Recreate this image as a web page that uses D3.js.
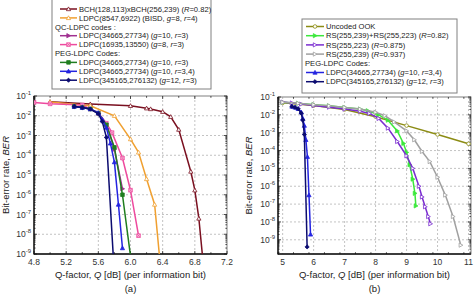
<!DOCTYPE html>
<html><head><meta charset="utf-8">
<script src="https://cdn.jsdelivr.net/npm/d3@7"></script>
<style>body{margin:0;background:#fff}svg{display:block;font-family:"Liberation Sans",Arial,sans-serif}</style>
</head><body><svg id="chart" width="474" height="294"></svg>
<script>
// ---- panel (a) data: Q [dB] and BER
const qBch   = [5.0, 5.5, 6.0, 6.2, 6.25, 6.4, 6.5, 6.6, 6.75, 6.8, 6.85, 6.9];
const berBch = [5.1e-2, 3.9e-2, 3.2e-2, 2.4e-2, 2.2e-2, 1.6e-2, 8.9e-3, 2.0e-3, 1.5e-5, 1.7e-6, 6.3e-8, 5e-10];
const qBisd   = [5.0, 5.5, 5.8, 6.0, 6.1, 6.2, 6.3, 6.36];
const berBisd = [5.0e-2, 3.2e-2, 1.0e-2, 6.6e-4, 1.4e-4, 6.3e-6, 3.2e-7, 8e-10];
const qQc1   = [5.3, 5.5, 5.6, 5.7, 5.8, 5.9];
const berQc1 = [2.95e-2, 2.2e-2, 1.35e-2, 4.0e-3, 2.0e-4, 2.0e-6];
const qQc2   = [4.8, 5.0, 5.4, 5.6, 5.7, 5.77, 5.9, 6.0, 6.1];
const berQc2 = [4.7e-2, 4.0e-2, 3.5e-2, 1.35e-2, 4.2e-3, 1.4e-3, 7.2e-5, 1.7e-6, 8.5e-9];
const qPeg1   = [5.3, 5.4, 5.5, 5.6, 5.7, 5.8, 5.9, 6.0];
const berPeg1 = [2.95e-2, 2.6e-2, 2.2e-2, 1.35e-2, 3.5e-3, 2.5e-4, 1.0e-6, 8e-10];
const qPeg2   = [5.3, 5.4, 5.5, 5.6, 5.65, 5.7, 5.75, 5.8, 5.85, 5.9];
const berPeg2 = [2.95e-2, 2.6e-2, 2.2e-2, 1.4e-2, 6.3e-3, 2.5e-3, 4.0e-4, 4.5e-5, 3.2e-7, 2.0e-9];
const qPeg3   = [5.3, 5.4, 5.5, 5.6, 5.65, 5.7, 5.79];
const berPeg3 = [2.95e-2, 2.6e-2, 2.2e-2, 1.26e-2, 5.0e-3, 8.0e-4, 4.0e-10];

// ---- panel (b) data
const qOok   = [5, 6, 7, 8, 9, 10, 11];
const berOok = [4.7e-2, 3.3e-2, 2.0e-2, 7.9e-3, 2.5e-3, 7.9e-4, 2.4e-4];
const qRsRs   = [5, 5.5, 6, 6.5, 7, 7.5, 7.75, 8.1, 8.4, 8.7, 8.9, 9.0, 9.1, 9.2, 9.27, 9.3];
const berRsRs = [5.0e-2, 4.4e-2, 3.7e-2, 3.2e-2, 2.6e-2, 2.1e-2, 1.7e-2, 1.0e-2, 5.0e-3, 1.26e-3, 2.5e-4, 7.9e-5, 1.6e-5, 2.5e-6, 4.0e-7, 7.9e-8];
const qRs223   = [5, 5.3, 5.6, 6, 6.5, 7, 7.5, 7.8, 8.1, 8.4, 8.7, 9.0, 9.2, 9.4, 9.5, 9.6, 9.7, 9.77];
const berRs223 = [5.2e-2, 4.6e-2, 4.0e-2, 3.3e-2, 2.7e-2, 2.1e-2, 1.6e-2, 1.2e-2, 6.3e-3, 1.8e-3, 3.2e-4, 5.0e-5, 1.0e-5, 1.0e-6, 2.5e-7, 7.1e-8, 2.0e-8, 7.9e-9];
const qRs239   = [5, 5.5, 6, 6.5, 7, 7.5, 8, 8.3, 8.6, 9.0, 9.25, 9.5, 9.75, 10, 10.25, 10.5, 10.75];
const berRs239 = [5.0e-2, 4.4e-2, 3.7e-2, 3.2e-2, 2.6e-2, 2.1e-2, 1.4e-2, 8.9e-3, 4.0e-3, 1.26e-3, 4.0e-4, 8.9e-5, 2.4e-5, 3.2e-6, 3.2e-7, 2.0e-8, 5.0e-10];

const xTicksA = [4.8, 5.2, 5.6, 6.0, 6.4, 6.8, 7.2];
const xTicksB = [5, 6, 7, 8, 9, 10, 11];
const yExpA = [-1, -2, -3, -4, -5, -6, -7, -8, -9];
const yExpB = [-1, -2, -3, -4, -5, -6, -7, -8, -9];

const svg = d3.select("#chart");

const serA = [
  {q: qBch, ber: berBch, color: "#7a1020", mk: "triUp", open: true, label: "BCH(128,113)xBCH(256,239) (*R*=0.82)"},
  {q: qBisd, ber: berBisd, color: "#f0a030", mk: "triUp", open: true, label: "LDPC(8547,6922) (BISD, *g*=8, *r*=4)"},
  {header: "QC-LDPC codes :"},
  {q: qQc1, ber: berQc1, color: "#a03090", mk: "triRight", label: "LDPC(34665,27734) (*g*=10,  *r*=3)"},
  {q: qQc2, ber: berQc2, color: "#ee4a9e", mk: "squareX", label: "LDPC(16935,13550) (*g*=8, *r*=3)"},
  {header: "PEG-LDPC Codes:"},
  {q: qPeg1, ber: berPeg1, color: "#1f7d1f", mk: "square", label: "LDPC(34665,27734) (*g*=10, *r*=3)"},
  {q: qPeg2, ber: berPeg2, color: "#2424e0", mk: "triUp", label: "LDPC(34665,27734) (*g*=10, *r*=3,4)"},
  {q: qPeg3, ber: berPeg3, color: "#0c0c70", mk: "diamond", label: "LDPC(345165,276132) (*g*=12, *r*=3)"}
];
const serB = [
  {q: qOok, ber: berOok, color: "#8c8c14", mk: "circle", open: true, label: "Uncoded OOK"},
  {q: qRsRs, ber: berRsRs, color: "#3ce83c", mk: "triRight", label: "RS(255,239)+RS(255,223) (*R*=0.82)"},
  {q: qRs223, ber: berRs223, color: "#7a2cd0", mk: "triRight", open: true, label: "RS(255,223) (*R*=0.875)"},
  {q: qRs239, ber: berRs239, color: "#a0a0a0", mk: "triRight", open: true, label: "RS(255,239) (*R*=0.937)"},
  {header: "PEG-LDPC Codes:"},
  {q: qPeg2, ber: berPeg2, color: "#2424e0", mk: "triUp", label: "LDPC(34665,27734) (*g*=10, *r*=3,4)"},
  {q: qPeg3, ber: berPeg3, color: "#0c0c70", mk: "diamond", label: "LDPC(345165,276132) (*g*=12, *r*=3)"}
];

function marker(g, s, x, y) {
  const r = 2.1;
  const fill = s.open ? "#fff" : s.color;
  let p;
  if (s.mk === "triUp") p = `M${x},${y - r}L${x + r},${y + r * 0.8}L${x - r},${y + r * 0.8}Z`;
  else if (s.mk === "triRight") p = `M${x + r},${y}L${x - r * 0.8},${y - r}L${x - r * 0.8},${y + r}Z`;
  else if (s.mk === "diamond") p = `M${x},${y - r}L${x + r},${y}L${x},${y + r}L${x - r},${y}Z`;
  else if (s.mk === "square" || s.mk === "squareX") p = `M${x - 1.8},${y - 1.8}h3.6v3.6h-3.6Z`;
  if (s.mk === "circle") {
    g.append("circle").attr("cx", x).attr("cy", y).attr("r", 1.8).attr("fill", fill).attr("stroke", s.color).attr("stroke-width", 0.8);
    return;
  }
  g.append("path").attr("d", p).attr("fill", s.mk === "squareX" ? "#f8c8e0" : fill)
    .attr("stroke", s.color).attr("stroke-width", 0.8);
  if (s.mk === "squareX")
    g.append("path").attr("d", `M${x - 1.8},${y - 1.8}L${x + 1.8},${y + 1.8}M${x + 1.8},${y - 1.8}L${x - 1.8},${y + 1.8}`)
      .attr("stroke", s.color).attr("stroke-width", 0.7);
}

function richText(t, str) {
  str.split("*").forEach((part, i) => {
    if (part) t.append("tspan").attr("font-style", i % 2 ? "italic" : null).text(part);
  });
}

function panel(o) {
  const x = d3.scaleLinear().domain(o.xDom).range([o.x0, o.x1]);
  const y = d3.scaleLog().domain(o.yDom).range([o.y1, o.y0]);
  const g = svg.append("g");
  const id = "clip" + o.name;
  svg.append("clipPath").attr("id", id).append("rect")
    .attr("x", o.x0).attr("y", o.y0).attr("width", o.x1 - o.x0).attr("height", o.y1 - o.y0);

  // grid
  g.selectAll(".gx").data(o.xTicks.filter(d => x(d) > o.x0 + 1 && x(d) < o.x1 - 1)).join("line")
    .attr("x1", d => x(d)).attr("x2", d => x(d)).attr("y1", o.y0).attr("y2", o.y1)
    .attr("stroke", "#b4b4b4").attr("stroke-width", 0.8).attr("stroke-dasharray", "2,2");
  g.selectAll(".gy").data(o.yExp.filter(e => y(10 ** e) > o.y0 + 1 && y(10 ** e) < o.y1 - 1)).join("line")
    .attr("y1", e => y(10 ** e)).attr("y2", e => y(10 ** e)).attr("x1", o.x0).attr("x2", o.x1)
    .attr("stroke", "#b4b4b4").attr("stroke-width", 0.8).attr("stroke-dasharray", "2,2");

  // frame
  g.append("rect").attr("x", o.x0).attr("y", o.y0).attr("width", o.x1 - o.x0).attr("height", o.y1 - o.y0)
    .attr("fill", "none").attr("stroke", "#808080").attr("stroke-width", 1);

  // ticks (inward, all sides)
  const tk = g.append("g").attr("stroke", "#222").attr("stroke-width", 0.8);
  const minorX = d3.range(o.xDom[0], o.xDom[1] + 1e-9, o.xMinor).filter(v => v >= o.xDom[0] - 1e-9);
  minorX.forEach(v => {
    const len = o.xTicks.some(t => Math.abs(t - v) < 1e-6) ? 3 : 1.8;
    tk.append("line").attr("x1", x(v)).attr("x2", x(v)).attr("y1", o.y1).attr("y2", o.y1 - len);
    tk.append("line").attr("x1", x(v)).attr("x2", x(v)).attr("y1", o.y0).attr("y2", o.y0 + len);
  });
  for (let e = -10; e <= -1; e++) {
    for (let m = 1; m < 10; m++) {
      const v = m * 10 ** e;
      if (v < o.yDom[0] || v > o.yDom[1] * 1.0001) continue;
      const len = m === 1 ? 3 : 1.6;
      tk.append("line").attr("x1", o.x0).attr("x2", o.x0 + len).attr("y1", y(v)).attr("y2", y(v));
      tk.append("line").attr("x1", o.x1).attr("x2", o.x1 - len).attr("y1", y(v)).attr("y2", y(v));
    }
  }
  g.append("line").attr("x1", o.x0).attr("x2", o.x0).attr("y1", o.y0).attr("y2", o.y1 + 0.5).attr("stroke", "#111").attr("stroke-width", 1.4);
  g.append("line").attr("x1", o.x0).attr("x2", o.x1).attr("y1", o.y1).attr("y2", o.y1).attr("stroke", "#111").attr("stroke-width", 1.4);

  // tick labels
  g.selectAll(".xl").data(o.xTicks).join("text")
    .attr("x", d => x(d)).attr("y", o.y1 + 10.5).attr("text-anchor", "middle")
    .attr("font-size", 8.5).attr("fill", "#333").text(o.xFmt);
  o.yExp.forEach(e => {
    const t = g.append("text").attr("x", o.x0 - 3).attr("y", y(10 ** e) + 3).attr("text-anchor", "end")
      .attr("font-size", 8.5).attr("fill", "#333");
    t.append("tspan").text("10");
    t.append("tspan").attr("dy", -4).attr("font-size", 6).text(e);
  });

  // titles
  const xt = g.append("text").attr("x", (o.x0 + o.x1) / 2).attr("y", o.y1 + 23.5)
    .attr("text-anchor", "middle").attr("font-size", 9.5).attr("fill", "#222");
  richText(xt, "Q-factor, *Q* [dB] (per information bit)");
  g.append("text").attr("x", (o.x0 + o.x1) / 2).attr("y", 292).attr("text-anchor", "middle")
    .attr("font-size", 9.5).attr("fill", "#222").text(o.tag);
  const yt = g.append("text").attr("transform", `translate(${o.yTitleX},${(o.y0 + o.y1) / 2}) rotate(-90)`)
    .attr("text-anchor", "middle").attr("font-size", 9.5).attr("fill", "#222");
  richText(yt, "Bit-error rate, *BER*");

  // series
  const line = d3.line().x(d => x(d[0])).y(d => y(d[1]));
  const plot = g.append("g").attr("clip-path", `url(#${id})`);
  o.series.filter(s => !s.header).forEach(s => {
    const pts = s.q.map((q, i) => [q, s.ber[i]]);
    plot.append("path").attr("d", line(pts)).attr("fill", "none")
      .attr("stroke", s.color).attr("stroke-width", 1.5);
    pts.filter(p => p[1] >= o.yDom[0]).forEach(p => marker(plot, s, x(p[0]), y(p[1])));
  });

  // legend
  const L = o.legend;
  const lg = svg.append("g");
  lg.append("rect").attr("x", L.x0).attr("y", L.y0).attr("width", L.x1 - L.x0).attr("height", L.y1 - L.y0)
    .attr("fill", "#fff").attr("stroke", "#808080").attr("stroke-width", 1);
  o.series.forEach((s, i) => {
    const cy = L.top + i * L.step;
    if (s.header) {
      lg.append("text").attr("x", L.x0 + 3).attr("y", cy + 2.7).attr("font-size", 7.6).attr("fill", "#222").text(s.header);
      return;
    }
    lg.append("line").attr("x1", L.lx0).attr("x2", L.lx1).attr("y1", cy).attr("y2", cy)
      .attr("stroke", s.color).attr("stroke-width", 1.5);
    marker(lg, s, (L.lx0 + L.lx1) / 2, cy);
    const t = lg.append("text").attr("x", L.lx1 + 2).attr("y", cy + 2.7).attr("font-size", 7.6).attr("fill", "#222");
    richText(t, s.label);
  });
}

panel({
  name: "a", tag: "(a)", x0: 34, x1: 227, y0: 96, y1: 254,
  xDom: [4.8, 7.2], yDom: [1e-9, 1e-1], xTicks: xTicksA, xMinor: 0.2, yExp: yExpA,
  xFmt: d => d.toFixed(1), yTitleX: 9, series: serA,
  legend: {x0: 52, x1: 211, y0: -1, y1: 89, top: 9, step: 8.9, lx0: 60, lx1: 77}
});
panel({
  name: "b", tag: "(b)", x0: 278, x1: 471, y0: 97, y1: 254,
  xDom: [4.85, 11.08], yDom: [1.6e-10, 1e-1], xTicks: xTicksB, xMinor: 0.5, yExp: yExpB,
  xFmt: d => d, yTitleX: 252, series: serB,
  legend: {x0: 302, x1: 457, y0: 19, y1: 93, top: 26.5, step: 9.2, lx0: 306, lx1: 324}
});
</script></body></html>
